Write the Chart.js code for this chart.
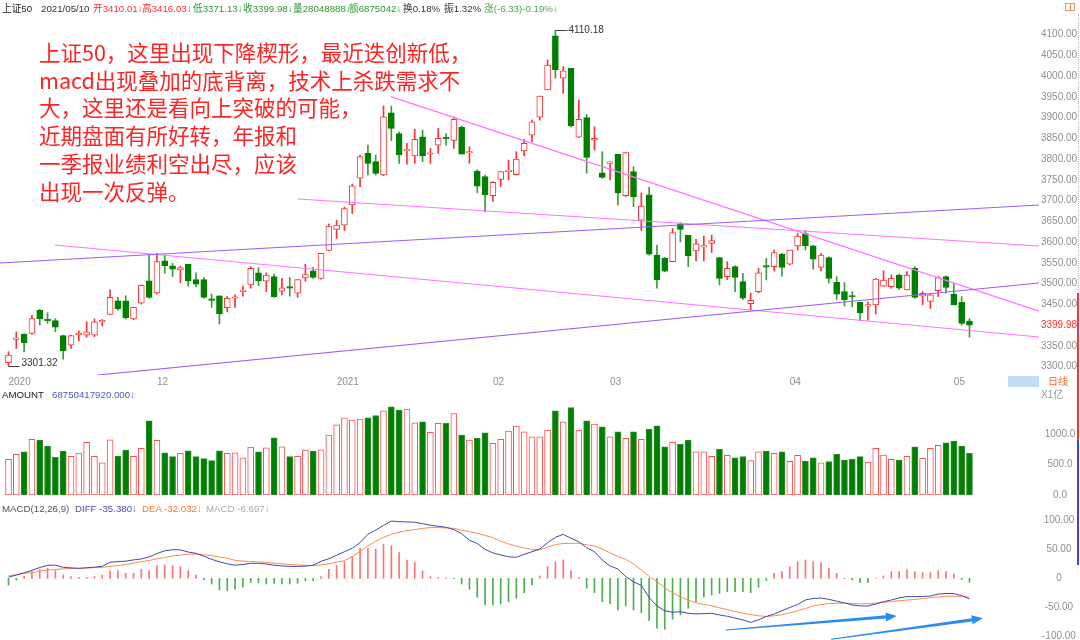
<!DOCTYPE html>
<html lang="zh-CN">
<head>
<meta charset="utf-8">
<title>上证50 日线</title>
<script src="https://cdn.jsdelivr.net/npm/chart.js@4.4.1/dist/chart.umd.min.js"></script>
<style>
  html, body { margin: 0; padding: 0; background: #fff; }
  body { position: relative; width: 1080px; height: 640px; overflow: hidden;
         font-family: 'Liberation Sans', Arial, 'Noto Sans CJK SC', sans-serif; }
  canvas { position: absolute; left: 0; }
  .t { position: absolute; white-space: nowrap; font-size: 9.7px; line-height: 12px; }
  .note { position: absolute; left: 39px; top: 38px; font-family: 'Noto Sans CJK SC', sans-serif;
          font-size: 21.5px; line-height: 27.7px; color: #ff2424; white-space: nowrap; }
</style>
</head>
<body>
<canvas id="priceChart" width="1080" height="393" style="top:0"></canvas>
<canvas id="amountChart" width="1080" height="105" style="top:393px"></canvas>
<canvas id="macdChart" width="1080" height="142" style="top:498px"></canvas>

<!-- header line -->
<span class="t" style="left:2px;top:3px;color:#222">上证50</span>
<span class="t" style="left:41px;top:3px;color:#333">2021/05/10</span>
<span class="t" style="left:93px;top:3px;color:#ff3030">开3410.01↓</span>
<span class="t" style="left:142px;top:3px;color:#ff3030">高3416.03↓</span>
<span class="t" style="left:193px;top:3px;color:#2f9a2f">低3371.13↓</span>
<span class="t" style="left:243px;top:3px;color:#2f9a2f">收3399.98↓</span>
<span class="t" style="left:293px;top:3px;color:#2f9a2f">量28048888↓</span>
<span class="t" style="left:349px;top:3px;color:#2f9a2f">额6875042↓</span>
<span class="t" style="left:403px;top:3px;color:#333">换0.18%</span>
<span class="t" style="left:444px;top:3px;color:#333">振1.32%</span>
<span class="t" style="left:484px;top:3px;color:#4aa84a">涨(-6.33)-0.19%↓</span>
<div style="position:absolute;left:1065px;top:3px;width:8px;height:6px;border:1px solid #ff8c66"></div>
<div style="position:absolute;left:1070px;top:3px;width:0;height:8px;border-left:1px solid #ff8c66"></div>

<!-- right side strip -->
<div style="position:absolute;left:1078px;top:14px;height:278px;border-left:1px dotted #99cc99"></div>
<div style="position:absolute;left:1077px;top:293px;width:2px;height:147px;background:#ff3030"></div>
<div style="position:absolute;left:1077px;top:440px;width:2px;height:125px;background:#3344ff"></div>

<!-- period button -->
<div style="position:absolute;left:1008px;top:376px;width:31px;height:11px;background:#c5dcf7"></div>
<span class="t" style="left:1048px;top:376px;color:#ff6a2a;font-size:10px">日线</span>
<span class="t" style="left:1041px;top:389px;color:#999;font-size:10px">X1亿</span>

<!-- sub chart titles -->
<span class="t" style="left:2px;top:389px;color:#222">AMOUNT</span>
<span class="t" style="left:52px;top:389px;color:#4d5bb5">68750417920.000↓</span>
<span class="t" style="left:2px;top:503px;color:#555">MACD(12,26,9)</span>
<span class="t" style="left:75px;top:503px;color:#4b4bbb">DIFF -35.380↓</span>
<span class="t" style="left:142px;top:503px;color:#ff7733">DEA -32.032↓</span>
<span class="t" style="left:206px;top:503px;color:#aaa">MACD -6.697↓</span>

<div class="note">上证50，这里出现下降楔形，最近迭创新低，<br>macd出现叠加的底背离，技术上杀跌需求不<br>大，这里还是看向上突破的可能，<br>近期盘面有所好转，年报和<br>一季报业绩利空出尽，应该<br>出现一次反弹。</div>

<script>
// 2020/11/04 - 2021/05/10, one entry per trading day
var monthTickIdx = [0, 19, 42, 62, 77, 100, 121];
var monthTickText = ['2020', '12', '2021', '02', '03', '04', '05'];

var opens = [3310,3366,3378,3380,3436,3415,3411,3375,3352,3377, 3376,3376,3408,3426,3459,3459,3415,3453,3507,3478,
  3555,3543,3533,3547,3510,3510,3463,3471,3442,3465, 3481,3497,3526,3506,3517,3482,3493,3477,3514,3531,
  3513,3580,3631,3641,3690,3754,3814,3794,3762,3912, 3862,3820,3808,3854,3812,3834,3852,3845,3877,3815,
  3771,3758,3712,3751,3770,3763,3820,3858,3901,3967, 4097,3995,4019,3853,3900,3846,3767,3790,3812,3712,
  3770,3653,3714,3569,3561,3553,3644,3617,3579,3588, 3597,3563,3517,3541,3505,3452,3481,3543,3541,3571,
  3547,3591,3621,3591,3539,3563,3503,3481,3470,3455, 3446,3449,3494,3493,3521,3485,3537,3470,3457,3483,
  3517,3475,3455,3410.01];
var highs = [3336,3384,3380,3424,3438,3430,3416,3376,3376,3386, 3408,3415,3414,3485,3467,3471,3443,3497,3569,3573,
  3569,3549,3542,3547,3526,3515,3475,3471,3469,3473, 3494,3541,3539,3526,3523,3513,3515,3510,3547,3539,
  3573,3644,3653,3685,3740,3810,3834,3810,3928,3928, 3866,3838,3872,3870,3826,3874,3862,3902,3880,3830,
  3775,3762,3746,3770,3798,3818,3848,3894,3952,4039, 4110.18,4023,4019,3943,3908,3878,3818,3794,3812,3816,
  3782,3719,3732,3593,3563,3633,3647,3617,3607,3615, 3617,3563,3553,3543,3525,3477,3537,3561,3581,3573,
  3581,3621,3628,3593,3573,3565,3517,3503,3481,3456, 3456,3513,3531,3521,3523,3529,3541,3481,3477,3517,
  3519,3501,3469,3416.03];
var lows = [3301.32,3344,3336,3378,3400,3404,3384,3318,3344,3362, 3371,3372,3398,3426,3436,3415,3413,3451,3465,3475,
  3525,3517,3502,3494,3493,3465,3443,3403,3432,3443, 3470,3489,3495,3481,3467,3473,3470,3467,3506,3513,
  3511,3579,3609,3628,3669,3734,3762,3762,3760,3845, 3790,3788,3790,3794,3790,3814,3834,3826,3812,3790,
  3719,3673,3698,3734,3750,3762,3808,3842,3894,3967, 3995,3959,3878,3852,3766,3822,3754,3750,3690,3710,
  3686,3628,3569,3489,3529,3553,3601,3541,3555,3555, 3575,3497,3510,3481,3462,3436,3478,3509,3531,3518,
  3545,3581,3581,3535,3531,3502,3462,3446,3444,3411, 3412,3427,3493,3489,3486,3485,3465,3449,3440,3469,
  3477,3449,3400,3371.13];
var closes = [3328,3368,3358,3416,3416,3411,3395,3338,3375,3378, 3384,3408,3411,3467,3440,3418,3443,3496,3467,3553,
  3543,3535,3539,3507,3499,3467,3460,3427,3465,3467, 3483,3537,3507,3521,3469,3490,3489,3510,3522,3515,
  3573,3639,3641,3681,3736,3806,3790,3766,3902,3874, 3810,3823,3848,3808,3814,3850,3849,3896,3812,3816,
  3735,3714,3744,3770,3774,3800,3838,3890,3952,4027, 4015,4013,3881,3896,3804,3850,3756,3793,3719,3816,
  3710,3687,3571,3509,3530,3623,3631,3567,3596,3590, 3604,3513,3537,3515,3465,3460,3526,3540,3575,3539,
  3581,3615,3591,3559,3569,3513,3475,3461,3468,3430, 3448,3511,3509,3513,3489,3521,3467,3477,3473,3515,
  3491,3449,3404,3399.98];

// 成交额, 亿
var amounts = [587,669,713,916,905,806,620,724,636,691, 866,636,532,910,642,740,636,768,1223,899,
  696,631,685,729,631,598,565,729,685,696, 614,790,713,779,943,795,631,636,740,724,
  746,987,1157,1272,1234,1250,1272,1310,1387,1453, 1398,1415,1190,1206,1031,1179,1179,1343,987,905,
  932,1025,850,916,1053,1135,1042,960,960,1069, 1387,1206,1442,1069,1223,1168,1124,960,1042,932,
  1042,916,1080,1140,795,866,833,905,713,713, 636,751,653,614,631,565,713,724,685,713,
  554,653,559,614,532,549,669,576,587,631, 543,768,658,587,576,636,795,603,768,817,
  861,888,806,687.5];

var diffVals = [2,5.5,9.5,13.5,18.5,22.2,22.5,18.8,17.8,17.1, 18,19,20.5,27.5,28.6,29.3,31.5,33.1,36.5,42.5,
  47,49,48.7,45,42.8,37.8,32.5,28.3,24.8,22.5, 23.5,25.7,25.7,24.5,22.4,21.2,20.3,20.3,20.7,22.5,
  29,33.5,39.5,45.5,51.5,61,75.5,82.5,90.5,98, 97,96.5,96,93.6,90.8,89,87.5,83.5,76.5,65,
  59.5,49.5,43.5,40,36.8,36,41,45.5,50,61, 70.2,75.3,68.5,62.5,52.5,45.5,31.4,21,16,3,
  -6,-12,-33,-47.4,-55.5,-58.2,-57.2,-59.9,-60.9,-60.5, -60,-62.8,-65,-68,-71.4,-75.5,-71,-65.5,-61.1,-55.5,
  -50,-45,-37.1,-34.5,-33.8,-36,-39.2,-42,-45.7,-47.3, -47.5,-44,-40,-37.1,-33.6,-31.4,-31.4,-31,-30.4,-27,
  -26,-26.2,-29.5,-35.38];
var deaVals = [4.2,6.2,8.2,9.8,12.3,14.2,15.2,16.2,16.7,17, 17.6,18.3,18.9,20.3,21.8,23.8,25.9,28.3,30.6,33.3,
  35.7,38.3,39.6,41.3,41.4,40.3,38.8,36.6,34.3,30.9, 29.4,28.7,28.2,27.2,25.9,24.9,23.7,22.9,22.2,21.7,
  22.9,24.8,27.5,30.3,37,45.7,55.5,63.6,70,75.3, 78.8,81.7,83.4,85.5,86.8,86.8,86.3,85.4,82.4,79.8,
  77,73.5,69.4,63.5,58.8,55,52,49.4,48.5,53.3, 57.9,59.6,59.9,59.9,57.5,55.1,50.4,43.5,37.3,32.5,
  24.4,14.3,3.3,-5.7,-16.2,-24.8,-31.6,-37.4,-42,-44.8, -47.1,-50.6,-53.6,-56.9,-59.5,-62.3,-64.2,-65.4,-64.2,-62.4,
  -59.4,-55.6,-51.8,-47.2,-45,-43.2,-42.8,-42.8,-43.2,-43.8, -43.4,-42.6,-41.4,-39.8,-38.3,-37.3,-36.3,-34.9,-33.3,-31.8,
  -30.7,-30.5,-31.4,-32.03];
var macdVals = [-11.4,-2.9,4,11.4,15.4,17.1,13.1,5.7,2.9,1.7, 1.7,2.9,5.7,12.6,13.1,8.6,8.6,15.4,13.1,21.7,
  22.8,21.7,20,13.1,5.7,-2.9,-9.7,-20,-21.1,-18.8, -15.4,-7.4,-7.4,-9.7,-8.6,-9.7,-9.7,-8.6,-4,-4,
  2.9,15.4,21.7,28.5,37.1,51.4,51.4,49.7,58.2,55.9, 44,31.4,27.4,12.6,2.9,1.7,0.6,-0.5,-9.7,-18.8,
  -32.5,-45.7,-45.7,-44,-40,-34.2,-24.5,-11.4,4,20, 28.5,31.4,13.1,1.7,-17.1,-24.5,-40,-44,-54.2,-47.4,
  -54.2,-58.8,-72.5,-85.6,-87.3,-70.2,-62.8,-51.4,-40,-32.5, -28.5,-25.7,-22.8,-22.8,-22.8,-24.5,-15.4,-4,8.6,11.4,
  20,28.5,31.4,28.5,26.8,17.1,8.6,-0.5,-2.9,-7.4, -7.4,0.3,4,11.4,11.4,14.3,11.4,9.7,9.7,13.1,
  11.4,7.4,-1.7,-6.697];

var priceTicks = [3300, 3350, 3450, 3500, 3550, 3600, 3650, 3700, 3750, 3800, 3850, 3900, 3950, 4000, 4050, 4100];
var amountTicks = [0, 500, 1000];
var macdTicks = [-100, -50, 0, 50, 100];

// wedge / channel lines drawn on the price panel: [index, price]
var wedgeFrom = [[-1.09, 3549.9], [11.39, 3280.0], [5.96, 3593.3], [37.05, 3704.1], [48.94, 3950.6]];
var wedgeTo = [[131.9, 3689.6], [131.9, 3501.7], [131.9, 3371.6], [131.9, 3590.8], [131.9, 3434.0]];

// divergence arrows on the MACD panel: [index, value]
var arrowTails = [[91.8, -88.5], [105.3, -104.5]];
var arrowHeads = [[113.7, -64.6], [124.7, -68.5]];

var RED = '#ff3333';
var GREEN = '#008000';
var AXIS_GREY = '#909090';
var X_MIN = -1.088, X_MAX = 131.9;

Chart.defaults.font.family = "'Liberation Sans', Arial, sans-serif";
Chart.defaults.font.size = 10;
Chart.defaults.color = AXIS_GREY;

var idx = opens.map(function (_, i) { return i; });
function isUp(i) { return closes[i] >= opens[i]; }

function hiddenX() {
    return { type: 'linear', min: X_MIN, max: X_MAX, offset: false, display: false };
}

function rightAxis(min, max, ticks, fmt, pad) {
    return {
        position: 'right', min: min, max: max,
        grid: { display: false, drawTicks: false },
        border: { display: false },
        afterBuildTicks: function (s) { s.ticks = ticks.map(function (v) { return { value: v }; }); },
        afterFit: function (s) { s.width = 41; s.paddingTop = 0; s.paddingBottom = 0; },
        ticks: { callback: fmt, crossAlign: 'center', padding: pad, color: AXIS_GREY, font: { size: 10 } }
    };
}

var baseOpts = {
    responsive: false, animation: false, devicePixelRatio: 1,
    plugins: { legend: { display: false }, tooltip: { enabled: false } }
};

// ---------- price panel ----------
var wedgeColors = ['#a15cf5', '#a15cf5', '#ff73ff', '#ff73ff', '#ff73ff'];
var wedgeSets = wedgeFrom.map(function (p, k) {
    return {
        type: 'line', order: 0,
        data: [{ x: p[0], y: p[1] }, { x: wedgeTo[k][0], y: wedgeTo[k][1] }],
        borderColor: wedgeColors[k], borderWidth: 1.2, pointRadius: 0, tension: 0
    };
});

var priceMarks = {
    id: 'priceMarks',
    afterDraw: function (chart) {
        var ctx = chart.ctx, x = chart.scales.x, y = chart.scales.y;
        var hi = highs.indexOf(Math.max.apply(null, highs));
        var lo = lows.indexOf(Math.min.apply(null, lows));
        ctx.save();
        ctx.font = "10px 'Liberation Sans', Arial";
        ctx.lineWidth = 1;
        ctx.strokeStyle = '#444';
        ctx.fillStyle = '#333';
        ctx.textAlign = 'left';

        var px = x.getPixelForValue(hi), py = Math.round(y.getPixelForValue(highs[hi])) + 0.5;
        ctx.beginPath(); ctx.moveTo(px, py); ctx.lineTo(px + 12, py); ctx.stroke();
        ctx.textBaseline = 'middle';
        ctx.fillText(highs[hi].toFixed(2), px + 13, py);

        px = x.getPixelForValue(lo); py = Math.round(y.getPixelForValue(lows[lo])) + 0.5;
        ctx.beginPath(); ctx.moveTo(px, py); ctx.lineTo(px + 11, py); ctx.stroke();
        ctx.textBaseline = 'bottom';
        ctx.fillText(lows[lo].toFixed(2), px + 13, py + 2);

        // last close on the price axis
        var last = closes.length - 1;
        ctx.fillStyle = '#ff3030';
        ctx.textAlign = 'center';
        ctx.textBaseline = 'middle';
        ctx.fillText(closes[last].toFixed(2), y.left + 2 + 18, y.getPixelForValue(closes[last]));
        ctx.restore();
    }
};

var priceX = {
    type: 'linear', min: X_MIN, max: X_MAX, offset: false,
    grid: { display: false, drawTicks: false },
    border: { display: false },
    afterBuildTicks: function (s) { s.ticks = monthTickIdx.map(function (v) { return { value: v }; }); },
    afterFit: function (s) { s.height = 18; s.paddingLeft = 0; s.paddingRight = 0; },
    ticks: {
        align: 'start', autoSkip: false, maxRotation: 0, padding: 1, color: AXIS_GREY, font: { size: 10 },
        callback: function (v) { return monthTickText[monthTickIdx.indexOf(v)]; }
    }
};

new Chart(document.getElementById('priceChart'), {
    type: 'bar',
    data: {
        datasets: wedgeSets.concat([
            {
                label: 'body', order: 1, grouped: false, barThickness: 6, minBarLength: 1.5,
                borderWidth: 1, borderSkipped: false,
                data: idx.map(function (i) {
                    return { x: i, y: [Math.min(opens[i], closes[i]), Math.max(opens[i], closes[i])] };
                }),
                backgroundColor: function (c) { return isUp(c.dataIndex) ? '#ffffff' : GREEN; },
                borderColor: function (c) { return isUp(c.dataIndex) ? RED : GREEN; }
            },
            {
                label: 'wick', order: 2, grouped: false, barThickness: 1, borderWidth: 0,
                data: idx.map(function (i) { return { x: i, y: [lows[i], highs[i]] }; }),
                backgroundColor: function (c) { return isUp(c.dataIndex) ? RED : '#3c9c3c'; }
            }
        ])
    },
    options: Object.assign({}, baseOpts, {
        layout: { padding: { top: 20, left: 0, right: 0, bottom: 0 } },
        scales: {
            x: priceX,
            y: rightAxis(3280, 4135.4, priceTicks, function (v) { return v.toFixed(2); }, 2)
        }
    }),
    plugins: [priceMarks]
});

// ---------- amount panel ----------
new Chart(document.getElementById('amountChart'), {
    type: 'bar',
    data: {
        datasets: [{
            grouped: false, barThickness: 6, borderWidth: 1, borderSkipped: false,
            data: idx.map(function (i) { return { x: i, y: amounts[i] }; }),
            backgroundColor: function (c) { return isUp(c.dataIndex) ? '#ffffff' : GREEN; },
            borderColor: function (c) { return isUp(c.dataIndex) ? '#ff4d4d' : '#2b8f2b'; }
        }]
    },
    options: Object.assign({}, baseOpts, {
        layout: { padding: { top: 7, left: 0, right: 0, bottom: 3 } },
        scales: {
            x: hiddenX(),
            y: rightAxis(0, 1565, amountTicks, function (v) { return v.toFixed(1); }, 5.7)
        }
    })
});

// ---------- MACD panel ----------
var macdArrows = {
    id: 'macdArrows',
    afterDraw: function (chart) {
        var ctx = chart.ctx, x = chart.scales.x, y = chart.scales.y;
        ctx.save();
        ctx.fillStyle = '#2a8cf0';
        arrowTails.forEach(function (t, k) {
            var x0 = x.getPixelForValue(t[0]), y0 = y.getPixelForValue(t[1]);
            var x1 = x.getPixelForValue(arrowHeads[k][0]), y1 = y.getPixelForValue(arrowHeads[k][1]);
            var a = Math.atan2(y1 - y0, x1 - x0), c = Math.cos(a), s = Math.sin(a);
            var nx = x1 - 11 * c, ny = y1 - 11 * s;
            // tapered shaft
            ctx.beginPath();
            ctx.moveTo(x0 + 0.5 * s, y0 - 0.5 * c);
            ctx.lineTo(nx + 1.6 * s, ny - 1.6 * c);
            ctx.lineTo(nx - 1.6 * s, ny + 1.6 * c);
            ctx.lineTo(x0 - 0.5 * s, y0 + 0.5 * c);
            ctx.closePath();
            ctx.fill();
            // head
            ctx.beginPath();
            ctx.moveTo(x1, y1);
            ctx.lineTo(nx + 4.5 * s, ny - 4.5 * c);
            ctx.lineTo(nx - 4.5 * s, ny + 4.5 * c);
            ctx.closePath();
            ctx.fill();
        });
        ctx.restore();
    }
};

new Chart(document.getElementById('macdChart'), {
    type: 'bar',
    data: {
        datasets: [
            {
                type: 'line', order: 0, data: idx.map(function (i) { return { x: i, y: diffVals[i] }; }),
                borderColor: '#4646a8', borderWidth: 1, pointRadius: 0, tension: 0
            },
            {
                type: 'line', order: 1, data: idx.map(function (i) { return { x: i, y: deaVals[i] }; }),
                borderColor: '#ff8a4c', borderWidth: 1, pointRadius: 0, tension: 0
            },
            {
                order: 2, grouped: false, barThickness: 1, borderWidth: 0,
                data: idx.map(function (i) { return { x: i, y: macdVals[i] }; }),
                backgroundColor: function (c) { return macdVals[c.dataIndex] >= 0 ? '#ff7373' : '#4fae4f'; }
            }
        ]
    },
    options: Object.assign({}, baseOpts, {
        layout: { padding: { top: 12, left: 0, right: 0, bottom: 0 } },
        scales: {
            x: hiddenX(),
            y: rightAxis(-105.65, 116.95, macdTicks, function (v) { return v === 0 ? '0' : v.toFixed(2); }, 3)
        }
    }),
    plugins: [macdArrows]
});
</script>
</body>
</html>
